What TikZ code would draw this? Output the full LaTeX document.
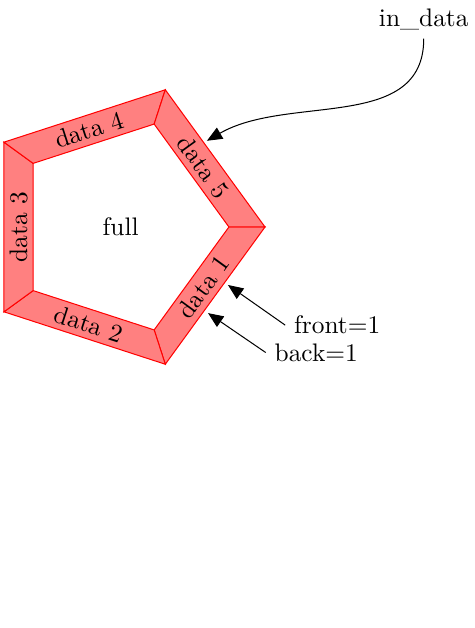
\documentclass[tikz,border=0pt]{standalone}
\usepackage{tikz}
\usetikzlibrary{arrows.meta,positioning,calc}

\begin{document}
\begin{tikzpicture}[
    slot/.style={draw=red, fill=red!50},
    ptr/.style={-{Triangle[length=6pt,width=5pt]}}
  ]
    \useasboundingbox (-1.673,-5.558) rectangle (4.897,3.146);

    % Cases de la file circulaire
    \foreach \k/\rot in {1/54, 2/-18, 3/90, 4/18, 5/-54} {
        \pgfmathsetmacro{\a}{-72*(\k-1)}
        \pgfmathsetmacro{\b}{-72*\k}
        \pgfmathsetmacro{\m}{-36-72*(\k-1)}
        \draw[slot] (\a:2) -- (\b:2) -- (\b:1.5) -- (\a:1.5) -- cycle;
        \node[rotate=\rot] (d\k) at (\m:1.416) {data \k};
    }

    % Etat
    \node (full) at (0,0) {full};

    % Pointeurs
    \coordinate (intip) at (45:1.69);
    \coordinate (fronttip) at (-28.4:1.69);
    \coordinate (backtip) at (-44.6:1.70);
    \node (inlbl) at (4.20,2.88) {in\_data};
    \node (frontlbl) at (3.00,-1.36) {front=1};
    \node (backlbl) at (2.71,-1.74) {back=1};

    \draw[ptr] (inlbl.south) to[out=-90, in=30] (intip);
    \draw[ptr] (frontlbl.west) -- (fronttip);
    \draw[ptr] (backlbl.west) -- (backtip);
\end{tikzpicture}
\end{document}
